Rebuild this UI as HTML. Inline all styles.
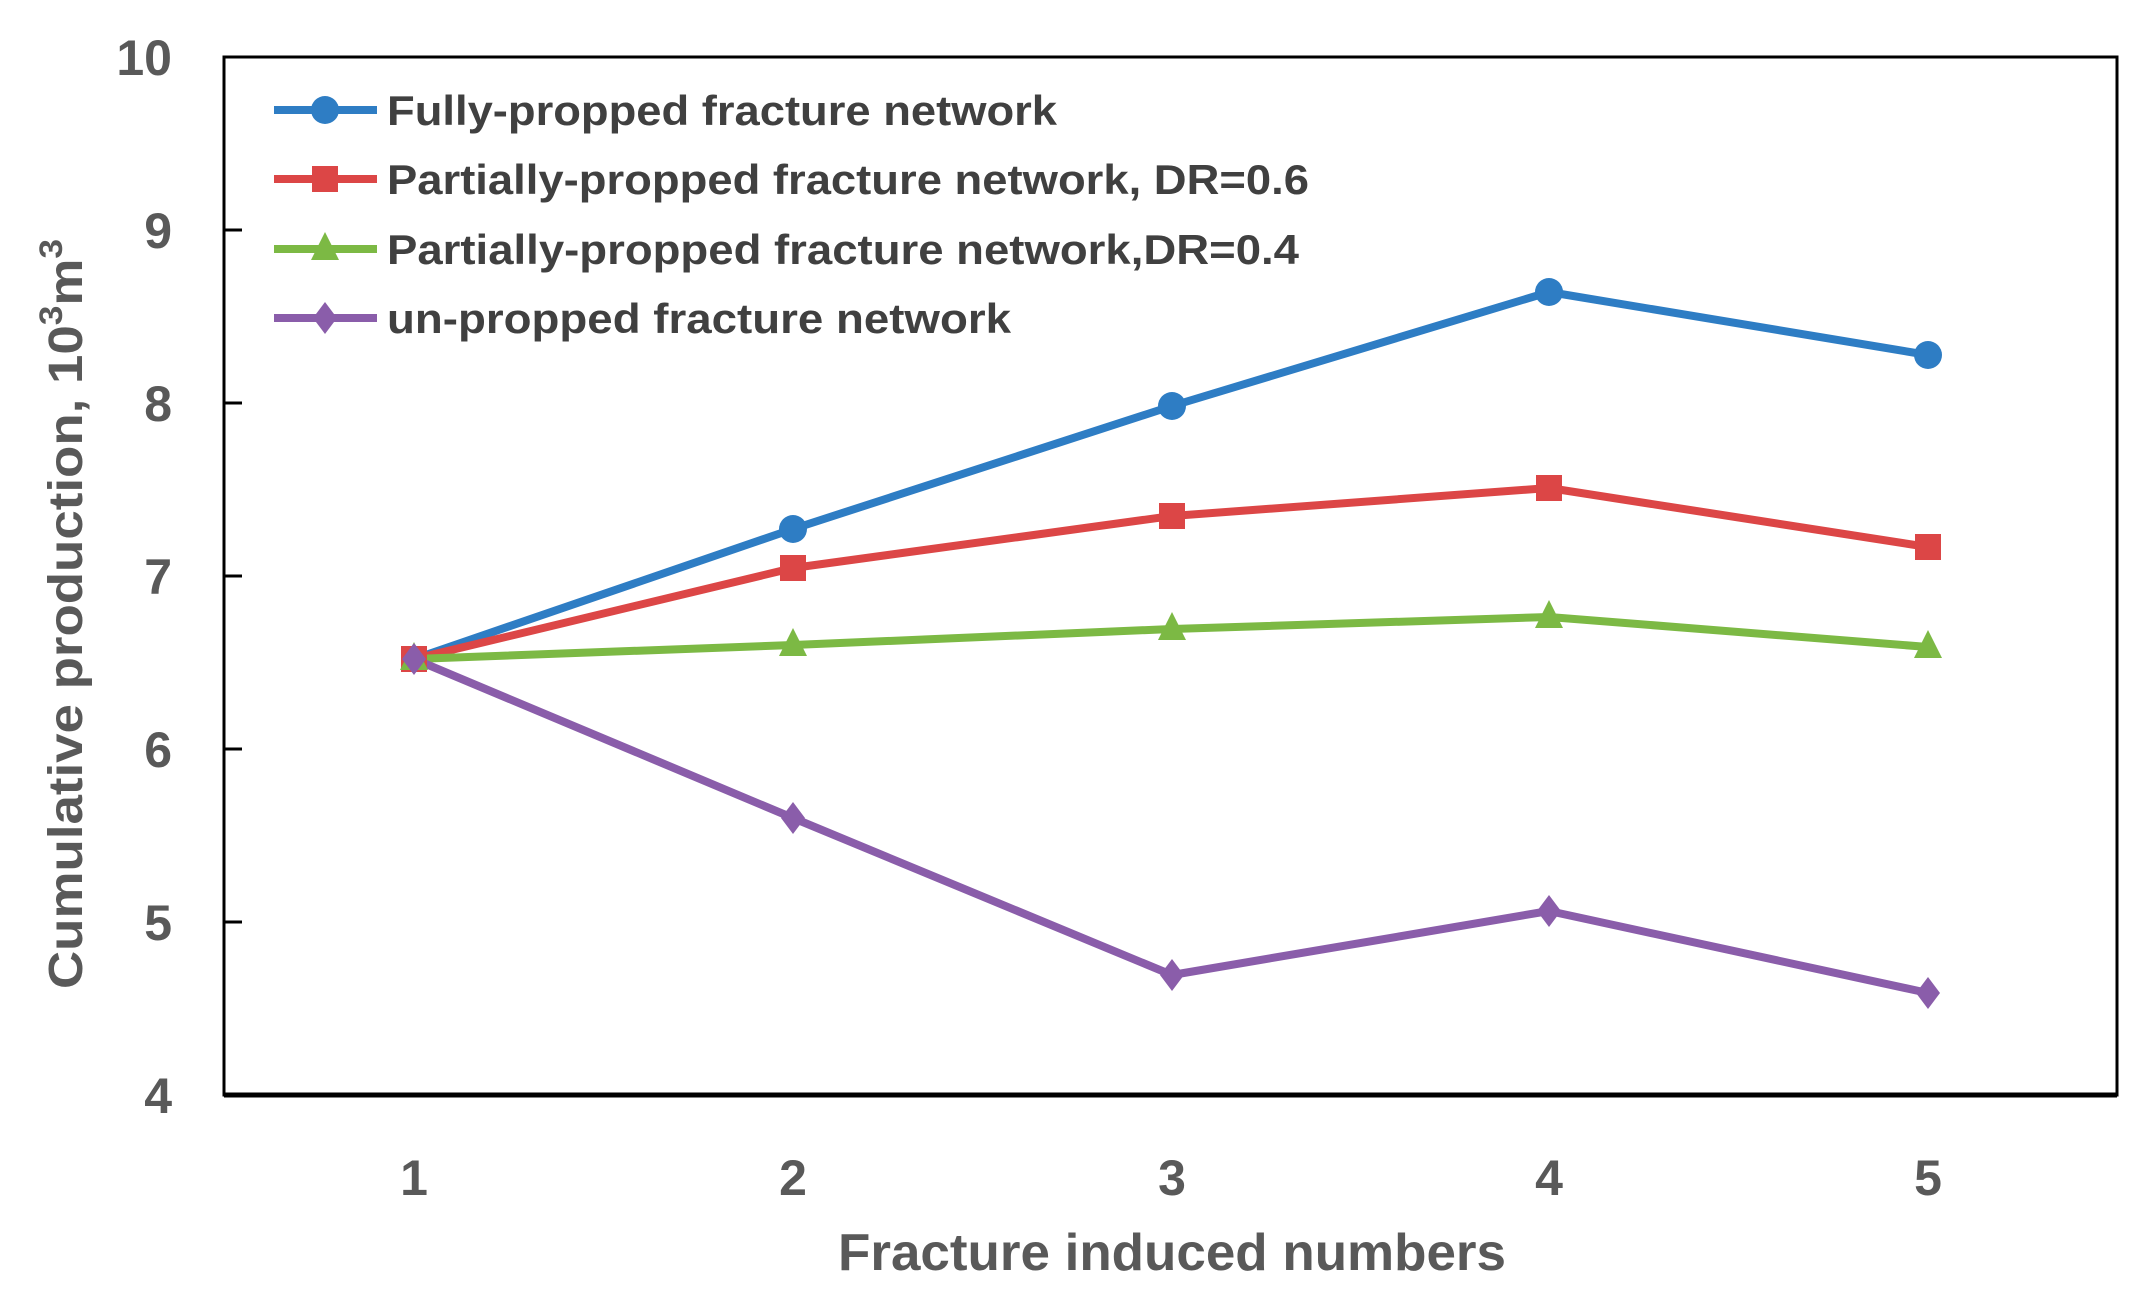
<!DOCTYPE html>
<html><head><meta charset="utf-8"><style>html,body{margin:0;padding:0;background:#fff}svg{display:block}</style></head>
<body>
<svg width="2151" height="1304" viewBox="0 0 2151 1304" xmlns="http://www.w3.org/2000/svg" font-family="'Liberation Sans', sans-serif" font-weight="bold">
<defs>
<circle id="mc" r="14"/>
<rect id="ms" x="-13" y="-13" width="26" height="26"/>
<polygon id="mt" points="0,-17 14,11 -14,11"/>
<polygon id="md" points="0,-16 12,0 0,16 -12,0"/>
</defs>
<rect width="2151" height="1304" fill="#fff"/>
<rect x="224" y="57" width="1893" height="1038" fill="none" stroke="#000" stroke-width="3"/>
<line x1="224" y1="1095" x2="2117" y2="1095" stroke="#000" stroke-width="5"/>
<g stroke="#000" stroke-width="3">
<line x1="224" y1="230" x2="242" y2="230"/><line x1="224" y1="403" x2="242" y2="403"/>
<line x1="224" y1="576" x2="242" y2="576"/><line x1="224" y1="749" x2="242" y2="749"/>
<line x1="224" y1="922" x2="242" y2="922"/>
</g>
<g fill="#595959" font-size="50" text-anchor="end">
<text x="172" y="75">10</text><text x="172" y="248">9</text><text x="172" y="421">8</text>
<text x="172" y="594">7</text><text x="172" y="767">6</text><text x="172" y="940">5</text><text x="172" y="1113">4</text>
</g>
<g fill="#595959" font-size="50" text-anchor="middle">
<text x="414" y="1195">1</text><text x="793" y="1195">2</text><text x="1172" y="1195">3</text><text x="1549" y="1195">4</text><text x="1928" y="1195">5</text>
</g>
<text x="1172" y="1270" fill="#595959" font-size="52" text-anchor="middle" textLength="668" lengthAdjust="spacingAndGlyphs">Fracture induced numbers</text>
<text transform="translate(82,614) rotate(-90)" fill="#595959" font-size="48" text-anchor="middle" textLength="750" lengthAdjust="spacingAndGlyphs">Cumulative production, 10<tspan font-size="32" dy="-20">3</tspan><tspan dy="20">m</tspan><tspan font-size="32" dy="-20">3</tspan></text>
<g fill="none" stroke-width="8" stroke-linejoin="round">
<polyline stroke="#2E7DC4" points="414,659 793,529 1172,406 1549,292 1928,355"/>
<polyline stroke="#DC4646" points="414,659 793,568 1172,516 1549,488 1928,547"/>
<polyline stroke="#7CB944" points="414,659 793,645 1172,629 1549,617 1928,647"/>
<polyline stroke="#8A5DAA" points="414,659 793,818 1172,975 1549,911 1928,993"/>
</g>
<g fill="#2E7DC4">
<use href="#mc" x="793" y="529"/><use href="#mc" x="1172" y="406"/><use href="#mc" x="1549" y="292"/><use href="#mc" x="1928" y="355"/>
</g>
<g fill="#DC4646">
<use href="#ms" x="414" y="659"/><use href="#ms" x="793" y="568"/><use href="#ms" x="1172" y="516"/><use href="#ms" x="1549" y="488"/><use href="#ms" x="1928" y="547"/>
</g>
<g fill="#7CB944">
<use href="#mt" x="414" y="659"/><use href="#mt" x="793" y="645"/><use href="#mt" x="1172" y="629"/><use href="#mt" x="1549" y="617"/><use href="#mt" x="1928" y="647"/>
</g>
<g fill="#8A5DAA">
<use href="#md" x="414" y="659"/><use href="#md" x="793" y="818"/><use href="#md" x="1172" y="975"/><use href="#md" x="1549" y="911"/><use href="#md" x="1928" y="993"/>
</g>
<g stroke-width="8">
<line x1="274" y1="110" x2="377" y2="110" stroke="#2E7DC4"/>
<line x1="274" y1="179" x2="377" y2="179" stroke="#DC4646"/>
<line x1="274" y1="249" x2="377" y2="249" stroke="#7CB944"/>
<line x1="274" y1="318" x2="377" y2="318" stroke="#8A5DAA"/>
</g>
<use href="#mc" x="325" y="110" fill="#2E7DC4"/>
<use href="#ms" x="325" y="179" fill="#DC4646"/>
<use href="#mt" x="325" y="249" fill="#7CB944"/>
<use href="#md" x="325" y="318" fill="#8A5DAA"/>
<g fill="#404040" font-size="42">
<text x="387" y="125" textLength="670" lengthAdjust="spacingAndGlyphs">Fully-propped fracture network</text>
<text x="387" y="194" textLength="922" lengthAdjust="spacingAndGlyphs">Partially-propped fracture network, DR=0.6</text>
<text x="387" y="264" textLength="912" lengthAdjust="spacingAndGlyphs">Partially-propped fracture network,DR=0.4</text>
<text x="387" y="333" textLength="624" lengthAdjust="spacingAndGlyphs">un-propped fracture network</text>
</g>
</svg>
</body></html>
